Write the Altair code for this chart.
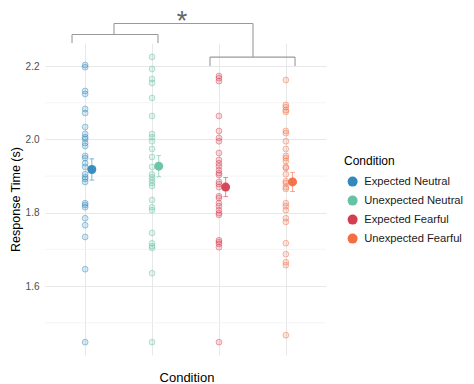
import altair as alt
import pandas as pd

conditions = ["Expected Neutral", "Unexpected Neutral", "Expected Fearful", "Unexpected Fearful"]
colors = ["#3288bd", "#66c2a5", "#d53e4f", "#f46d43"]

expected_neutral = [2.203, 2.197, 2.132, 2.124, 2.083, 2.072, 2.034, 2.015, 2.006, 2.001,
                    1.990, 1.982, 1.955, 1.949, 1.935, 1.925, 1.905, 1.897, 1.892, 1.884,
                    1.826, 1.821, 1.815, 1.785, 1.766, 1.734, 1.646, 1.447]
unexpected_neutral = [2.225, 2.192, 2.165, 2.154, 2.113, 2.064, 2.015, 2.006, 1.995, 1.974,
                      1.952, 1.925, 1.905, 1.897, 1.889, 1.881, 1.873, 1.835, 1.815, 1.807,
                      1.745, 1.717, 1.709, 1.704, 1.635, 1.447]
expected_fearful = [2.173, 2.167, 2.159, 2.064, 2.023, 2.004, 1.995, 1.963, 1.944, 1.935,
                    1.927, 1.916, 1.908, 1.903, 1.884, 1.878, 1.870, 1.845, 1.840, 1.826,
                    1.818, 1.807, 1.799, 1.794, 1.725, 1.720, 1.715, 1.706, 1.447]
unexpected_fearful = [2.162, 2.094, 2.088, 2.080, 2.075, 2.023, 2.017, 1.995, 1.974, 1.955,
                      1.949, 1.941, 1.925, 1.922, 1.905, 1.886, 1.881, 1.870, 1.865, 1.826,
                      1.818, 1.807, 1.785, 1.775, 1.717, 1.687, 1.665, 1.657, 1.466]

means = [1.918, 1.927, 1.870, 1.884]
ses = [0.029, 0.029, 0.026, 0.026]

y_major = [1.6, 1.8, 2.0, 2.2]
y_minor = [1.5, 1.7, 1.9, 2.1]

# significance brackets (x in category units, y in seconds)
br_x = [0.804, 0.804, 2.089, 1.431, 1.431, 3.509, 2.866, 2.866, 4.137]
br_x2 = [0.804, 2.089, 2.089, 1.431, 3.509, 3.509, 4.137, 2.866, 4.137]
br_y = [2.263, 2.286, 2.286, 2.286, 2.316, 2.316, 2.2245, 2.2245, 2.2245]
br_y2 = [2.286, 2.286, 2.263, 2.316, 2.316, 2.2245, 2.2245, 2.200, 2.200]
star = {"x": 2.448, "y": 2.299, "label": "*"}

W, H = 281, 312
FONT = "Liberation Sans"

series = [expected_neutral, unexpected_neutral, expected_fearful, unexpected_fearful]
rows = []
for i, (c, vals) in enumerate(zip(conditions, series)):
    for v in vals:
        rows.append({"condition": c, "idx": i + 1, "rt": v})
pts = pd.DataFrame(rows)

mdf = pd.DataFrame({"condition": conditions, "idx": [1, 2, 3, 4], "mean": means, "se": ses})
mdf["xm"] = mdf["idx"] + 0.1
mdf["lo"] = mdf["mean"] - mdf["se"]
mdf["hi"] = mdf["mean"] + mdf["se"]
mdf["cl"] = mdf["xm"] - 0.035
mdf["cr"] = mdf["xm"] + 0.035

minor_df = pd.DataFrame({"v": y_minor})
br_df = pd.DataFrame({"x": br_x, "x2": br_x2, "y": br_y, "y2": br_y2})
star_df = pd.DataFrame([star])

xs = alt.Scale(domain=[0.4, 4.6], nice=False, zero=False)
ys = alt.Scale(domain=[1.412, 2.263], nice=False, zero=False)
cs = alt.Scale(domain=conditions, range=colors)

leg = alt.Legend(orient="none", legendX=299, legendY=113,
                 titleFont=FONT, titleFontSize=12, titleFontWeight="normal",
                 titleColor="#000000", titlePadding=8,
                 labelFont=FONT, labelFontSize=11.2, labelColor="#1a1a1a",
                 symbolType="circle", symbolSize=100, symbolOpacity=1,
                 symbolStrokeWidth=0, symbolOffset=3, labelOffset=6,
                 rowPadding=7, padding=0)


def col():
    return alt.Color("condition:N", scale=cs, title="Condition", legend=leg)


x_axis = alt.Axis(values=[1, 2, 3, 4], labels=False, ticks=False, domain=False, grid=True,
                  gridColor="#e8e8e8", gridWidth=1, title="Condition", titleFontSize=13,
                  titleFont=FONT, titleFontWeight="normal", titleColor="#000000",
                  titleBaseline="middle", titleY=22, titleX=W / 2 + 1)
y_axis = alt.Axis(values=y_major, format=".1f", labelFontSize=10, labelFont=FONT,
                  labelColor="#4d4d4d", ticks=False, domain=False, labelPadding=6,
                  grid=True, gridColor="#e8e8e8", gridWidth=1,
                  title="Response Time (s)", titleFont=FONT, titleFontSize=12.5,
                  titleFontWeight="normal", titleColor="#000000", titleX=-30, titleY=H / 2,
                  titleAlign="center", titleBaseline="middle", titleAngle=-90)

minor = alt.Chart(minor_df).mark_rule(color="#f2f2f2", strokeWidth=0.8).encode(
    y=alt.Y("v:Q", scale=ys, axis=y_axis),
    x=alt.value(0), x2=alt.value(W))

points = alt.Chart(pts).mark_circle(size=34, fillOpacity=0.18, strokeOpacity=0.45, strokeWidth=1).encode(
    x=alt.X("idx:Q", scale=xs, axis=x_axis),
    y=alt.Y("rt:Q", scale=ys),
    color=col(),
    stroke=alt.Stroke("condition:N", scale=cs, legend=None))

ebar = alt.Chart(mdf).mark_rule(strokeWidth=1, opacity=0.6).encode(
    x=alt.X("xm:Q", scale=xs), y=alt.Y("lo:Q", scale=ys), y2="hi:Q", color=col())
cap_lo = alt.Chart(mdf).mark_rule(strokeWidth=1, opacity=0.6).encode(
    x=alt.X("cl:Q", scale=xs), x2="cr:Q", y=alt.Y("lo:Q", scale=ys), color=col())
cap_hi = alt.Chart(mdf).mark_rule(strokeWidth=1, opacity=0.6).encode(
    x=alt.X("cl:Q", scale=xs), x2="cr:Q", y=alt.Y("hi:Q", scale=ys), color=col())

mean_pts = alt.Chart(mdf).mark_circle(size=80, opacity=0.95).encode(
    x=alt.X("xm:Q", scale=xs), y=alt.Y("mean:Q", scale=ys), color=col())

brackets = alt.Chart(br_df).mark_rule(color="#9a9a9a", strokeWidth=1.1).encode(
    x=alt.X("x:Q", scale=xs), x2="x2:Q", y=alt.Y("y:Q", scale=ys), y2="y2:Q")

star_t = alt.Chart(star_df).mark_text(fontSize=27, font=FONT, color="#666666",
                                      baseline="alphabetic", align="center").encode(
    x=alt.X("x:Q", scale=xs), y=alt.Y("y:Q", scale=ys), text="label:N")

chart = alt.layer(minor, points, ebar, cap_lo, cap_hi, mean_pts, brackets, star_t).properties(
    width=W, height=H,
    autosize=alt.AutoSizeParams(type="none"),
    padding={"left": 37, "top": 35, "right": 140, "bottom": 29},
).configure(background="white").configure_view(strokeWidth=0)

chart.save("out.html", embed_options={"renderer": "svg", "actions": False})
